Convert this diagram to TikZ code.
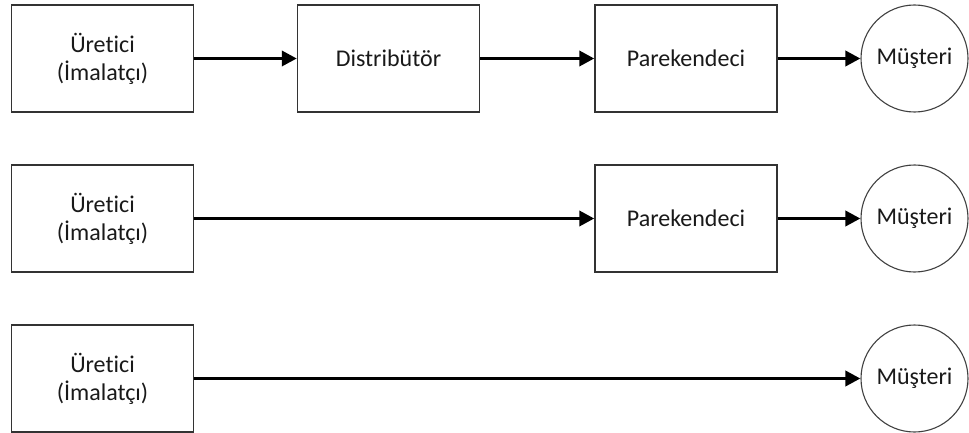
\documentclass[tikz,border=0pt]{standalone}
\usepackage{fontspec}
\setmainfont{Carlito}[Ligatures=NoCommon]
\usetikzlibrary{arrows.meta}
\tikzset{
  stage/.style={draw=black!80, line width=1.4pt, minimum width=182pt, minimum height=107pt,
    inner sep=0pt, align=center, font=\fontsize{24}{28}\selectfont, text=black!90},
  buyer/.style={circle, draw=black!75, line width=1.1pt, minimum size=107pt, inner sep=0pt,
    font=\fontsize{24}{28}\selectfont, text=black!90},
  flow/.style={line width=3.5pt, -{Triangle[length=15pt,width=15pt]}}
}
\begin{document}
\begin{tikzpicture}[x=1pt, y=-1pt]
  \useasboundingbox (0,0) rectangle (969,433);
  % first channel: producer, distributor, retailer, customer
  \node[stage] (p1) at (102.5,58.5) {Üretici\\(İmalatçı)};
  \node[stage] (d1) at (388.5,58.5) {Distribütör};
  \node[stage] (r1) at (686,58.5) {Parekendeci};
  \node[buyer] (c1) at (914.5,58.5) {Müşteri};
  % second channel: producer, retailer, customer
  \node[stage] (p2) at (102.5,218.5) {Üretici\\(İmalatçı)};
  \node[stage] (r2) at (686,218.5) {Parekendeci};
  \node[buyer] (c2) at (914.5,218.5) {Müşteri};
  % third channel: producer straight to customer
  \node[stage] (p3) at (102.5,378.5) {Üretici\\(İmalatçı)};
  \node[buyer] (c3) at (914.5,378.5) {Müşteri};
  % connectors
  \draw[flow] (p1.east) -- (d1.west);
  \draw[flow] (d1.east) -- (r1.west);
  \draw[flow] (r1.east) -- (c1.west);
  \draw[flow] (p2.east) -- (r2.west);
  \draw[flow] (r2.east) -- (c2.west);
  \draw[flow] (p3.east) -- (c3.west);
\end{tikzpicture}
\end{document}
